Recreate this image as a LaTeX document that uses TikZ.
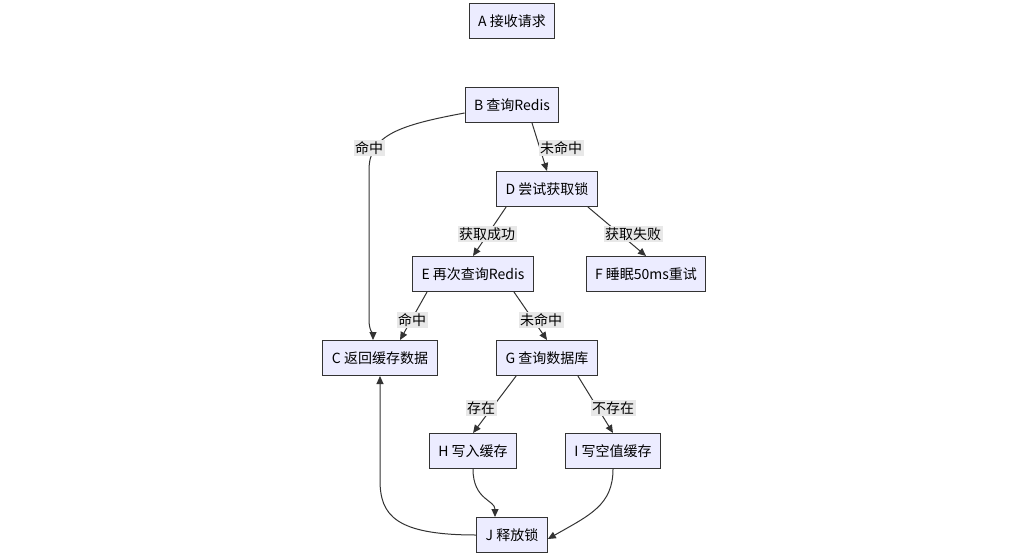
\documentclass[tikz,border=0pt]{standalone}
\usepackage{fontspec}
\setmainfont{Noto Sans CJK SC}
\usetikzlibrary{arrows.meta}
\definecolor{boxfill}{HTML}{ECECFF}
\definecolor{boxline}{HTML}{333333}
\definecolor{lblfill}{HTML}{E8E8E8}
\tikzset{
  procbox/.style={draw=boxline, fill=boxfill, line width=1pt, minimum height=35pt, inner xsep=9pt, font=\fontsize{14}{16}\selectfont},
  lbl/.style={fill=lblfill, inner sep=1.5pt, font=\fontsize{14}{16}\selectfont},
  flow/.style={draw=boxline, line width=1pt, -{Triangle[length=8pt,width=7pt]}}
}
\begin{document}
\begin{tikzpicture}[x=1pt,y=-1pt]
  \useasboundingbox (0,0) rectangle (1024,559);
  % steps
  \node[procbox] (A) at (512,21) {A\ 接收请求};
  \node[procbox] (B) at (512,105) {B\ 查询Redis};
  \node[procbox] (D) at (547,189) {D 尝试获取锁};
  \node[procbox] (E) at (473,274) {E 再次查询Redis};
  \node[procbox] (F) at (646,274) {F 睡眠50ms重试};
  \node[procbox] (C) at (380,358) {C 返回缓存数据};
  \node[procbox] (G) at (547,358) {G 查询数据库};
  \node[procbox] (H) at (473,451) {H 写入缓存};
  \node[procbox] (I) at (613,451) {I 写空值缓存};
  \node[procbox] (J) at (512,535) {J 释放锁};
  % connectors
  \draw[flow] ([yshift=-8pt]B.west) .. controls (400,125) and (369,135) .. (369,170) -- (369,320) .. controls (369,330) and (373,335) .. ([xshift=-7pt]C.north);
  \draw[flow] ([xshift=20pt]B.south) -- (D.north);
  \draw[flow] ([xshift=10pt]D.south west) -- (E.north);
  \draw[flow] ([xshift=-10pt]D.south east) -- (F.north);
  \draw[flow] ([xshift=15pt]E.south west) -- ([xshift=20pt]C.north);
  \draw[flow] ([xshift=-20pt]E.south east) -- (G.north);
  \draw[flow] ([xshift=20pt]G.south west) -- (H.north);
  \draw[flow] ([xshift=-20pt]G.south east) -- (I.north);
  \draw[flow] (H.south) .. controls (473,500) and (495,500) .. ([xshift=-17pt]J.north);
  \draw[flow] (I.south) .. controls (613,505) and (590,515) .. ([yshift=-4pt]J.east);
  \draw[flow] (J.west) .. controls (395,535) and (380,515) .. (380,480) -- (C.south);
  % labels
  \node[lbl] (l1) at (369,148) {命中};
  \node[lbl] (l2) at (561,148) {未命中};
  \node[lbl] (l3) at (487,234) {获取成功};
  \node[lbl] (l4) at (633,234) {获取失败};
  \node[lbl] (l5) at (412,320) {命中};
  \node[lbl] (l6) at (541,320) {未命中};
  \node[lbl] (l7) at (481,408) {存在};
  \node[lbl] (l8) at (613,408) {不存在};
\end{tikzpicture}
\end{document}
